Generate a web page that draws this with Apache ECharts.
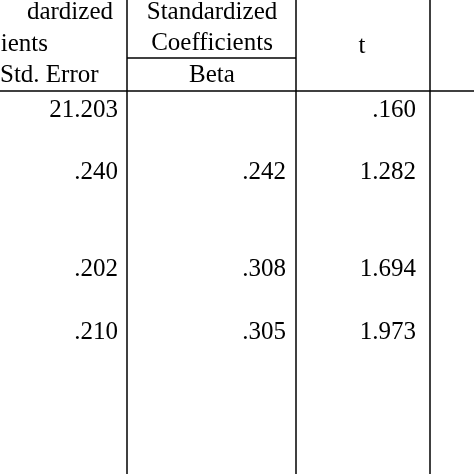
<!DOCTYPE html>
<html><head><meta charset="utf-8">
<script src="https://cdn.jsdelivr.net/npm/echarts@6/dist/echarts.min.js"></script>
<style>html,body{margin:0;background:#fff}#c{width:474px;height:474px}</style>
</head><body><div id="c"></div>
<script>
// table data
var stdError = ['21.203', '.240', '.202', '.210'];
var beta = ['', '.242', '.308', '.305'];
var tValues = ['.160', '1.282', '1.694', '1.973'];

// layout
var rowY = [110, 172, 269, 332];
var colRight = [118, 286, 416];
var vLines = [127, 296, 430];
var font = '25px "Liberation Serif", "Times New Roman", serif';

var g = [];
function txt(x, y, s, align) {
    g.push({ type: 'text', x: x, y: y, style: { text: s, font: font, fill: '#000', align: align || 'center', verticalAlign: 'middle' } });
}
function line(x1, y1, x2, y2) {
    g.push({ type: 'line', shape: { x1: x1, y1: y1, x2: x2, y2: y2 }, style: { stroke: '#000', lineWidth: 1.5 } });
}

// header
txt(113, 12, 'dardized', 'right');
txt(48, 44, 'ients', 'right');
txt(212, 12, 'Standardized');
txt(212, 43, 'Coefficients');
txt(0, 75, 'Std. Error', 'left');
txt(212, 75, 'Beta');
txt(362, 46, 't');

vLines.forEach(function (x) { line(x, 0, x, 474); });
line(127, 58, 296, 58);
line(0, 91, 474, 91);

var cols = [stdError, beta, tValues];
cols.forEach(function (col, c) {
    col.forEach(function (v, r) { if (v) txt(colRight[c], rowY[r], v, 'right'); });
});

var myChart = echarts.init(document.getElementById('c'));
myChart.setOption({ graphic: g });
</script></body></html>
